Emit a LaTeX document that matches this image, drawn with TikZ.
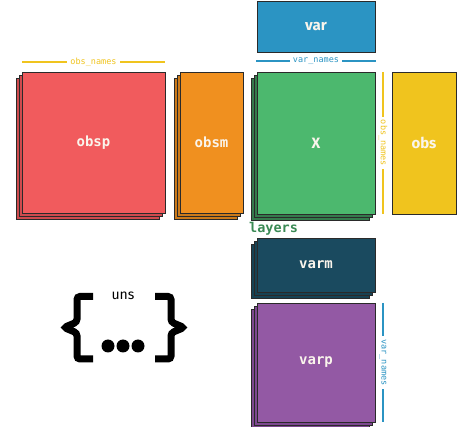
\documentclass[tikz,border=0pt]{standalone}
\usepackage{fontspec}
\setmainfont{Fira Sans}
\setmonofont{DejaVu Sans Mono}
\usetikzlibrary{shadows}

\definecolor{obspred}{HTML}{F15B5D}
\definecolor{obspdark}{HTML}{CF4A4E}
\definecolor{obsmorange}{HTML}{F0901F}
\definecolor{obsmdark}{HTML}{CC7A1A}
\definecolor{xgreen}{HTML}{4CB86E}
\definecolor{xdark}{HTML}{347A4C}
\definecolor{obsyellow}{HTML}{F0C41E}
\definecolor{varblue}{HTML}{2B94C3}
\definecolor{varmteal}{HTML}{1A4A5F}
\definecolor{varmdark}{HTML}{174253}
\definecolor{varppurple}{HTML}{9359A4}
\definecolor{varpdark}{HTML}{7D4890}
\definecolor{layersgreen}{HTML}{3A8A55}
\definecolor{edge}{HTML}{2A2A2A}
\definecolor{labelwhite}{HTML}{FAF5EC}

\tikzset{
	slot/.style={draw=edge, line width=0.9pt, inner sep=0pt, outer sep=0pt,
		text=labelwhite, font=\ttfamily\bfseries\fontsize{14}{14}\selectfont},
	stack/.style={slot, double copy shadow={shadow xshift=-3pt, shadow yshift=-3pt, fill=#1, draw=edge}},
	plainlabel/.style={font=\bfseries\fontsize{15}{15}\selectfont},
	dimline/.style={draw=#1, line width=2.6pt},
	dimlabel/.style={fill=white, inner sep=3pt, text=#1, font=\ttfamily\fontsize{8.5}{8.5}\selectfont},
	brace/.style={line width=7pt, rounded corners=3pt},
}

\begin{document}
\begin{tikzpicture}[x=1pt, y=-1pt]
	\useasboundingbox (0,0) rectangle (474,427);
	
	\node[stack=obspdark, fill=obspred, minimum width=143pt, minimum height=141pt] at (93.5,142.5) (obsp) {obsp};
	\node[stack=obsmdark, fill=obsmorange, minimum width=63pt, minimum height=141pt] at (211.5,142.5) (obsm) {obsm};
	\node[stack=xdark, fill=xgreen, minimum width=118pt, minimum height=142pt, plainlabel] at (316,143) (X) {X};
	\node[slot, fill=obsyellow, minimum width=64pt, minimum height=142pt, plainlabel] at (424,143) (obs) {obs};
	\node[slot, fill=varblue, minimum width=118pt, minimum height=51pt, plainlabel] at (316,26.5) (var) {var};
	\node[stack=varmdark, fill=varmteal, minimum width=118pt, minimum height=54pt] at (316,265) (varm) {varm};
	\node[stack=varpdark, fill=varppurple, minimum width=118pt, minimum height=119pt] at (316,362.5) (varp) {varp};
	\node[anchor=west, inner sep=0pt, text=layersgreen, font=\ttfamily\bfseries\fontsize{13.5}{13.5}\selectfont] at (249,229) (layers) {layers};
	
	% names along the axes
	\draw[dimline=obsyellow] ([yshift=10pt]obsp.north west) -- node[dimlabel=obsyellow] {obs\_names} ([yshift=10pt]obsp.north east);
	\draw[dimline=varblue] ([xshift=-1pt,yshift=11pt]X.north west) -- node[dimlabel=varblue] {var\_names} ([xshift=1pt,yshift=11pt]X.north east);
	\draw[dimline=obsyellow] ([xshift=8pt]X.north east) -- node[dimlabel=obsyellow, rotate=-90] {obs\_names} ([xshift=8pt]X.south east);
	\draw[dimline=varblue] ([xshift=8pt]varp.north east) -- node[dimlabel=varblue, rotate=-90] {var\_names} ([xshift=8pt]varp.south east);
	
	% uns
	\node[font=\fontsize{14}{14}\selectfont] at (123,296) (uns) {uns};
	\draw[brace] (93,296.5) -- (77,296.5) -- (77,322) -- (64,327.5) -- (77,333) -- (77,359) -- (93,359);
	\draw[brace] (155,296.5) -- (171,296.5) -- (171,322) -- (184,327.5) -- (171,333) -- (171,359) -- (155,359);
	\foreach \dx in {108,123,138}
		\fill (\dx,346) circle (6.5pt);
\end{tikzpicture}
\end{document}
